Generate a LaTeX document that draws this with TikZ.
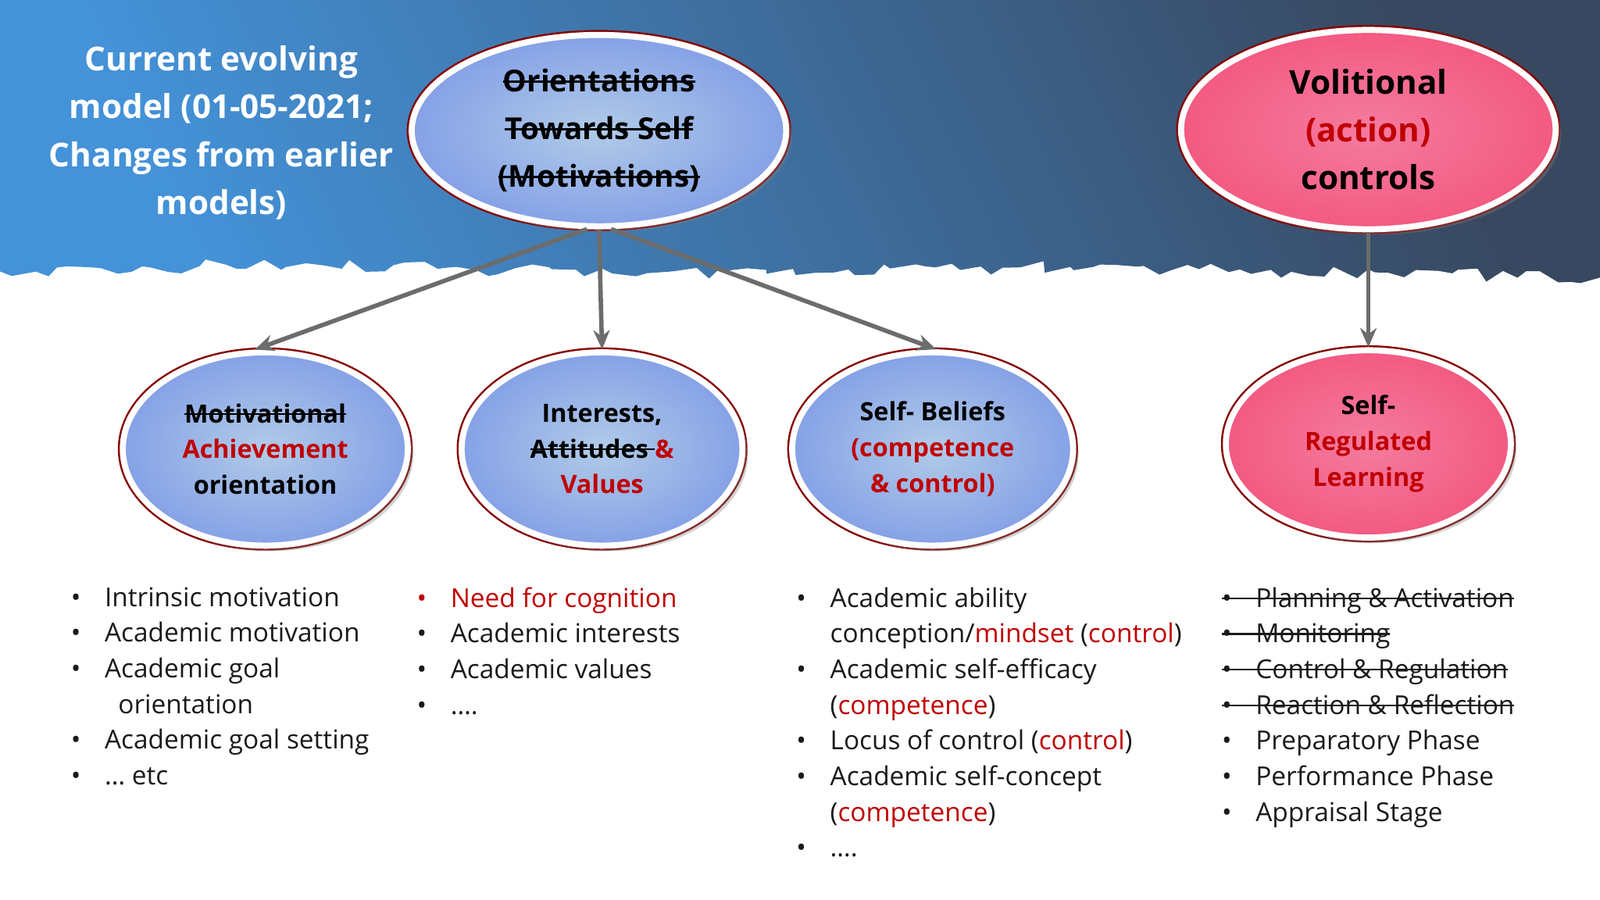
\documentclass[tikz,border=0pt]{standalone}
\usepackage{fontspec}
\setmainfont{Open Sans}
\usetikzlibrary{shapes.geometric,arrows.meta,decorations.pathmorphing,shadows}
\definecolor{dred}{HTML}{C00000}
\definecolor{lblue}{HTML}{9DBEE2}
\definecolor{pinkc}{HTML}{F2648F}
\definecolor{txt}{HTML}{1A1A1A}
\definecolor{bgl}{RGB}{68,146,216}
\definecolor{bgr}{RGB}{56,72,96}
\newcommand{\bl}{\makebox[12.3pt][l]{\textbullet}}
\newcommand{\stk}[1]{\setbox0\hbox{#1}\rlap{\rule[0.3em]{\wd0}{0.075em}}\box0}
\tikzset{
  ell/.style={ellipse, inner sep=0pt, align=center, line width=2.2pt, draw=white,
     preaction={draw=dred!70!black, line width=3.6pt},
     drop shadow={shadow xshift=2pt,shadow yshift=-2pt,opacity=0.35}},
  blue ell/.style={ell, inner color=lblue!80!white, outer color=lblue!85!blue},
  pink ell/.style={ell, inner color=pinkc!85!white, outer color=pinkc!90!red},
  arr/.style={draw=gray!85!black, line width=1.6pt, -{Stealth[length=7pt,width=6pt]}},
  lst/.style={anchor=north west, align=left, font=\fontsize{9.5}{13}\selectfont, text=txt, inner sep=0pt}
}
\begin{document}
\begin{tikzpicture}[x=0.0130612cm,y=-0.0130612cm]
\useasboundingbox (0,0) rectangle (1568,882);
\fill[white] (0,0) rectangle (1568,882);
\shade[left color=bgl, right color=bgr, shading angle=115]
  (0,0) -- (1568,0) -- (1568,272) decorate[decoration={random steps,segment length=5pt,amplitude=2.5pt}]
  { -- (1000,262) -- (600,268) -- (300,258) -- (0,266)} -- cycle;

\node[font=\bfseries\fontsize{12}{17.4}\selectfont, text=white, align=center] (title) at (217,130)
  {Current evolving\\model (01-05-2021;\\Changes from earlier\\models)};

\node[blue ell, minimum width=136.4pt, minimum height=69.7pt, font=\bfseries\fontsize{11}{17.4}\selectfont] (top) at (587,128)
  {\stk{Orientations}\\\stk{Towards Self}\\\stk{(Motivations)}};
\node[pink ell, minimum width=136.4pt, minimum height=72.6pt, font=\bfseries\fontsize{12}{17.4}\selectfont] (vol) at (1341,127)
  {Volitional\\\textcolor{dred}{(action)}\\controls};

\node[blue ell, minimum width=103.8pt, minimum height=70.4pt, font=\bfseries\fontsize{9.2}{13}\selectfont] (mot) at (260,440)
  {\stk{Motivational}\\\textcolor{dred}{Achievement}\\orientation};
\node[blue ell, minimum width=102.3pt, minimum height=70.4pt, font=\bfseries\fontsize{9.2}{13}\selectfont] (int) at (590,440)
  {Interests,\\\stk{Attitudes }\textcolor{dred}{\&}\\\textcolor{dred}{Values}};
\node[blue ell, minimum width=102.3pt, minimum height=70.4pt, font=\bfseries\fontsize{9.2}{13}\selectfont] (sb) at (914,440)
  {Self- Beliefs\\\textcolor{dred}{(competence}\\\textcolor{dred}{\& control)}};
\node[pink ell, minimum width=103.8pt, minimum height=68.2pt, font=\bfseries\fontsize{9.2}{13}\selectfont] (srl) at (1341,435)
  {Self-\\\textcolor{dred}{Regulated}\\\textcolor{dred}{Learning}};

\draw[arr] (top.263) -- (mot.96);
\draw[arr] (top.south) -- (int.north);
\draw[arr] (top.277) -- (sb.88);
\draw[arr] (vol.south) -- (srl.north);

\node[lst] (l1) at (69,575) {\bl Intrinsic motivation\\\bl Academic motivation\\\bl Academic goal\\\hspace{12.3pt}\ \ orientation\\\bl Academic goal setting\\\bl … etc};
\node[lst] (l2) at (408,575) {\textcolor{dred}{\bl Need for cognition}\\\bl Academic interests\\\bl Academic values\\\bl ….};
\node[lst] (l3) at (780,575) {\bl Academic ability\\\hspace{12.3pt}conception/\textcolor{dred}{mindset} (\textcolor{dred}{control})\\\bl Academic self-efficacy\\\hspace{12.3pt}(\textcolor{dred}{competence})\\\bl Locus of control (\textcolor{dred}{control})\\\bl Academic self-concept\\\hspace{12.3pt}(\textcolor{dred}{competence})\\\bl ….};
\node[lst] (l4) at (1197,575) {\stk{\bl Planning \& Activation}\\\stk{\bl Monitoring}\\\stk{\bl Control \& Regulation}\\\stk{\bl Reaction \& Reflection}\\\bl Preparatory Phase\\\bl Performance Phase\\\bl Appraisal Stage};
\end{tikzpicture}
\end{document}
